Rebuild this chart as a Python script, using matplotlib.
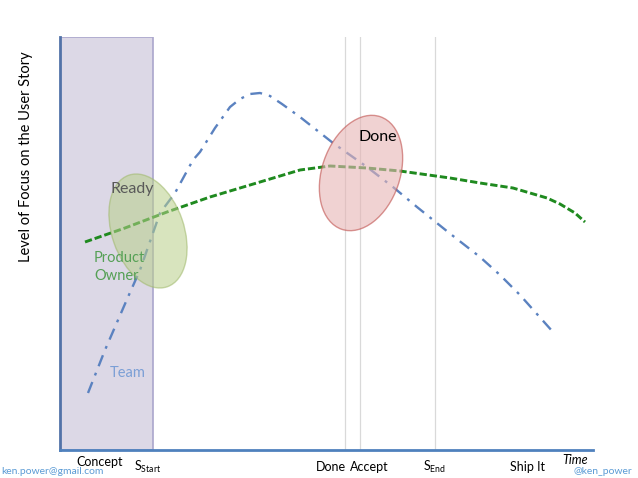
import matplotlib
matplotlib.use("Agg")
import matplotlib.pyplot as plt
from matplotlib.patches import Ellipse, Rectangle

plt.rcParams["font.family"] = ["Lato", "DejaVu Sans"]
plt.rcParams["mathtext.fontset"] = "custom"
plt.rcParams["mathtext.rm"] = "Lato"

# Team curve (time, focus)
team_x = [28, 45, 68, 80, 100, 115, 133, 140, 155, 170, 180, 190, 200, 210, 222,
          240, 273, 307, 333, 357, 388, 420, 440, 460, 493]
team_y = [57, 100, 153, 180, 237, 257, 290, 298, 322, 343, 351, 356, 357, 354, 346,
          333, 307, 283, 263, 243, 218, 193, 175, 155, 118]

# Product Owner curve
po_x = [25, 65, 107, 150, 200, 240, 270, 307, 340, 390, 420, 453, 487, 500, 515, 525]
po_y = [208, 222, 238, 253, 268, 280, 284, 282, 279, 272, 267, 262, 252, 246, 237, 228]

# milestones on the time axis
concept_end = 93
milestone_x = [285, 300, 375]
bottom_labels = ["Done", "Accept", r"S$_{\mathrm{End}}$", "Ship It"]
bottom_label_x = [271, 309, 375, 467]

# ellipses: centre, major, minor, angle
ready_ell = (88, 219, 118, 72, -71)
done_ell = (301, 277, 119, 78, 71)

fig = plt.figure(figsize=(6.38, 4.78), dpi=100)
ax = fig.add_axes([60 / 638, 28 / 478, 533 / 638, 413 / 478])
ax.set_xlim(0, 533)
ax.set_ylim(0, 413)

ax.add_patch(Rectangle((0, 0), concept_end, 413, facecolor="#dcd8e6",
                       edgecolor="#aaa6cc", lw=1.2, zorder=1))

for mx in milestone_x:
    ax.axvline(mx, color="#d9d9d9", lw=0.9, zorder=0)

ax.plot(team_x, team_y, color="#5b82c0", lw=1.7, linestyle=(0, (5, 3, 1.2, 3)), zorder=3)
ax.plot(po_x, po_y, color="#1f8a1f", lw=2.1, linestyle=(0, (2.5, 1)), zorder=3)

cx, cy, w, h, a = ready_ell
ax.add_patch(Ellipse((cx, cy), w, h, angle=a, facecolor="#b8cf8a", alpha=0.55,
                     edgecolor="#9fb86a", lw=1, zorder=4))
cx, cy, w, h, a = done_ell
ax.add_patch(Ellipse((cx, cy), w, h, angle=a, facecolor="#e6b4b4", alpha=0.6,
                     edgecolor="#c0504d", lw=1, zorder=4))

ax.text(72, 261, "Ready", fontsize=11.5, color="#595959", ha="center", va="center", zorder=5)
ax.text(318, 313, "Done", fontsize=11.5, color="black", ha="center", va="center", zorder=5)
ax.text(34, 183, "Product\nOwner", fontsize=10.5, color="#55a055", ha="left", va="center",
        linespacing=1.3, zorder=5)
ax.text(68, 77, "Team", fontsize=10.5, color="#7b9fd6", ha="center", va="center", zorder=5)

for sp in ["top", "right"]:
    ax.spines[sp].set_visible(False)
ax.spines["left"].set_color("#5272a8")
ax.spines["left"].set_linewidth(2)
ax.spines["bottom"].set_color("#4f81bd")
ax.spines["bottom"].set_linewidth(2)
ax.set_xticks([])
ax.set_yticks([])

ax.set_ylabel("Level of Focus on the User Story", fontsize=10.5)
ax.yaxis.set_label_coords(-0.05, 0.71)

ax.text(40, -12, "Concept", fontsize=9, ha="center", va="center", clip_on=False)
ax.text(88, -17, r"S$_{\mathrm{Start}}$", fontsize=9, ha="center", va="center", clip_on=False)
for lx, lab in zip(bottom_label_x, bottom_labels):
    ax.text(lx, -17, lab, fontsize=9, ha="center", va="center", clip_on=False)
ax.text(515, -10, "Time", fontsize=9, style="italic", ha="center", va="center", clip_on=False)

fig.text(1 / 638, 1 - 472 / 478, "ken.power@gmail.com", fontsize=7.5, color="#5b9bd5",
         ha="left", va="center")
fig.text(632 / 638, 1 - 472 / 478, "@ken_power", fontsize=7.5, color="#5b9bd5",
         ha="right", va="center")

fig.savefig("out.png", dpi=100)
